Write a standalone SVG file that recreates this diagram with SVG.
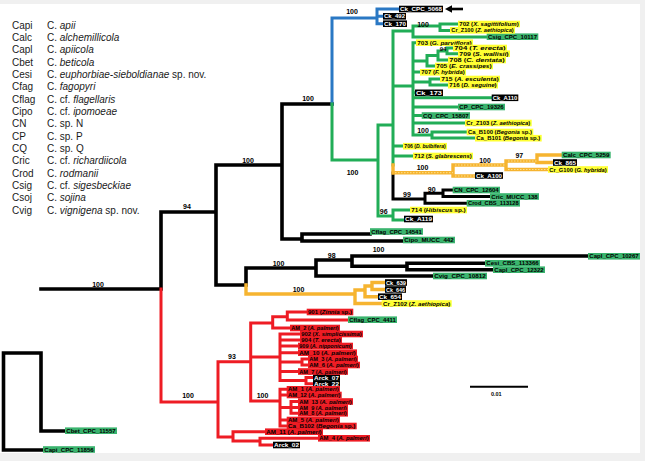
<svg xmlns="http://www.w3.org/2000/svg" width="645" height="461" viewBox="0 0 645 461">
<style>
.lg{font-family:"Liberation Sans",Arial,sans-serif;font-size:10px;fill:#1a1a1a}
.it{font-style:italic}
.sp{font-family:"Liberation Sans",Arial,sans-serif;font-size:7px;font-weight:bold;fill:#000;text-anchor:middle}
.lb{font-family:"Liberation Sans",Arial,sans-serif;font-size:5.5px;font-weight:bold}
.tw{fill:#fff}
.tk{fill:#000}
.bb{fill:#000}
.gb{fill:#3ab46e}
.yb{fill:#ffff33}
.rb{fill:#ee1c24}
.k{stroke:#000;stroke-width:3.6;fill:none;stroke-linecap:square}
.k2{stroke:#000;stroke-width:3;fill:none;stroke-linecap:square}
.g{stroke:#21ad57;stroke-width:3;fill:none;stroke-linecap:square}
.b{stroke:#2a78c4;stroke-width:3;fill:none;stroke-linecap:square}
.y{stroke:#f6b430;stroke-width:3.4;fill:none;stroke-linecap:square}
.yd{stroke:#fbe08e;stroke-width:1;fill:none;stroke-dasharray:1.5 1.5}
.r{stroke:#ee1c24;stroke-width:3;fill:none;stroke-linecap:square}
</style>
<rect x="0" y="0" width="645" height="461" fill="#f0f0f0"/>
<rect x="0" y="4" width="640" height="449" fill="#ffffff"/>

<g id="legend">
<text class="lg" x="12" y="28.5">Capi</text><text class="lg" x="47" y="28.5">C. <tspan class="it">apii</tspan></text>
<text class="lg" x="12" y="40.8">Calc</text><text class="lg" x="47" y="40.8">C. <tspan class="it">alchemillicola</tspan></text>
<text class="lg" x="12" y="53.2">Capl</text><text class="lg" x="47" y="53.2">C. <tspan class="it">apiicola</tspan></text>
<text class="lg" x="12" y="65.5">Cbet</text><text class="lg" x="47" y="65.5">C. <tspan class="it">beticola</tspan></text>
<text class="lg" x="12" y="77.8">Cesi</text><text class="lg" x="47" y="77.8">C. <tspan class="it">euphorbiae-sieboldianae</tspan> sp. nov.</text>
<text class="lg" x="12" y="90.2">Cfag</text><text class="lg" x="47" y="90.2">C. <tspan class="it">fagopyri</tspan></text>
<text class="lg" x="12" y="102.5">Cflag</text><text class="lg" x="47" y="102.5">C. cf. <tspan class="it">flagellaris</tspan></text>
<text class="lg" x="12" y="114.8">Cipo</text><text class="lg" x="47" y="114.8">C. cf. <tspan class="it">ipomoeae</tspan></text>
<text class="lg" x="12" y="127.2">CN</text><text class="lg" x="47" y="127.2">C. sp. N</text>
<text class="lg" x="12" y="139.5">CP</text><text class="lg" x="47" y="139.5">C. sp. P</text>
<text class="lg" x="12" y="151.8">CQ</text><text class="lg" x="47" y="151.8">C. sp. Q</text>
<text class="lg" x="12" y="164.2">Cric</text><text class="lg" x="47" y="164.2">C. cf. <tspan class="it">richardiicola</tspan></text>
<text class="lg" x="12" y="176.5">Crod</text><text class="lg" x="47" y="176.5">C. <tspan class="it">rodmanii</tspan></text>
<text class="lg" x="12" y="188.8">Csig</text><text class="lg" x="47" y="188.8">C. cf. <tspan class="it">sigesbeckiae</tspan></text>
<text class="lg" x="12" y="201.2">Csoj</text><text class="lg" x="47" y="201.2">C. <tspan class="it">sojina</tspan></text>
<text class="lg" x="12" y="213.5">Cvig</text><text class="lg" x="47" y="213.5">C. <tspan class="it">vignigena</tspan> sp. nov.</text>
</g>

<g id="connectors">
<path class="k" d="M3.5,353 V450 H43 M3.5,353 H41 V431 H65 M41,289 H161 V212 H216 V165 H282 M216,165 V285 H246 V268 H316 M282,104 V239 H302 M302,234 V241 M302,234 H370 M302,241 H403 M282,104 H332 M316,260 V276 H433 M316,260 H352 M352,256 V266.3 H407 M352,256 H588 M407,263.3 V269.7 M407,263.3 H485 M407,269.7 H493"/>
<path class="k2" d="M393,173 V199 H425 M425,193.3 V203.3 H466.7 M425,193.3 H443 M443,190 V196.5 M443,190 H452.7 M443,196.5 H490"/>
<path class="b" d="M332,104 V18 H377 M377,9 V23.7 M377,9 H399 M377,16.3 H383 M377,23.7 H383"/>
<path class="g" d="M332,104 V160 H378 M378,125 V216 H393 M393,210 V220 M393,210 H410 M393,220 H404 M378,125 H393 M393,31 V165 M393,31 H413 M413,26 V37 M413,26 H440 M440,24 V30.5 M440,24 H458 M440,30.5 H450 M413,37 H486.7 M393,86 H413 M413,42.7 V135 M413,42.7 H416 M447,48 V53.7 M447,48 H453 M447,53.7 H458 M438,51 V60 M438,51 H447 M438,60 H448 M427,55.5 V66 M427,55.5 H438 M427,66 H435 M413,61 H427 M413,72 H420 M430,79 V85 M430,79 H440 M430,85 H448 M413,82 H430 M413,92.8 H415 M413,97.8 H491.7 M413,107 H458 M413,115.5 H421.7 M413,123 H465 M413,135 H432 M432,132 V138 M432,132 H466.7 M432,138 H475 M393,146 H403 M393,156 H413"/>
<path class="y" d="M393,165 V173 M393,172.7 H453 M453,165 V176 M453,176 H475 M453,165 H506 M506,161 V169.5 M506,169.5 H548 M506,161 H537 M537,155 V162.5 M537,155 H561.7 M537,162.5 H553 M246,285 V294 H355 M355,290 V303.5 M355,303.5 H381.7 M355,290 H365 M365,286 V296.7 M365,296.7 H378 M365,286 H372 M372,282.5 V289.5 M372,282.5 H385 M372,289.5 H385"/>
<path class="yd" d="M395,172.7 H453 M455,176 H475 M455,165 H506 M508,169.5 H548 M508,161 H537"/>
<path class="r" d="M161,289 V402 H218 M218,361.7 V437 H233 M218,361.7 H250.7 M250.7,323 V401 M250.7,323 H272.7 M272.7,316.7 V328 H290 M272.7,316.7 H287.3 M287.3,312 V320 M287.3,312 H306.7 M287.3,320 H348 M250.7,357 H280 M280,334 V380.6 M280,334 H300 M280,340 H300 M280,346 H298 M280,352.7 H298 M280,362 H302 M302,359 V365 M302,359 H308 M302,365 H308 M280,371.5 H298 M280,380.6 H306 M306,377.5 V383.7 M306,377.5 H313 M306,383.7 H313 M250.7,401 H280 M280,389.3 V426 M280,389.3 H286.7 M280,395 H286.7 M280,407.5 H291 M291,401.5 V413.3 M291,401.5 H298 M291,407.5 H298 M291,413.3 H298 M280,420 H286.7 M280,426 H286.7 M233,431.7 V441 M233,431.7 H265 M233,441 H260 M260,438.3 V445 M260,438.3 H318 M260,445 H273"/>
</g>

<g id="support">
<text class="sp" x="98" y="287.3">100</text>
<text class="sp" x="187" y="209">94</text>
<text class="sp" x="248" y="163.3">100</text>
<text class="sp" x="308" y="101">100</text>
<text class="sp" x="352" y="14">100</text>
<text class="sp" x="423" y="26.5">100</text>
<text class="sp" x="443" y="50.5" style="font-size:6px">94</text>
<text class="sp" x="423" y="133">100</text>
<text class="sp" x="352.5" y="174.5">100</text>
<text class="sp" x="422.5" y="170">100</text>
<text class="sp" x="407" y="196.5">99</text>
<text class="sp" x="431.7" y="191.5">90</text>
<text class="sp" x="383.7" y="214">96</text>
<text class="sp" x="485" y="163.3">100</text>
<text class="sp" x="519.3" y="158.3">97</text>
<text class="sp" x="278.5" y="266.3">100</text>
<text class="sp" x="331.7" y="258">98</text>
<text class="sp" x="378.5" y="252.3">100</text>
<text class="sp" x="298.5" y="292.3">100</text>
<text class="sp" x="188" y="398">100</text>
<text class="sp" x="232" y="359">93</text>
<text class="sp" x="262.5" y="398.3">100</text>
</g>

<g id="arrow"><polygon points="445,9 452,5.2 452,12.8" fill="#000"/><rect x="451" y="7.7" width="12" height="2.6" fill="#000"/></g>

<g id="scale"><line x1="470" y1="386.7" x2="528" y2="386.7" stroke="#000" stroke-width="2"/><text class="sp" x="496.3" y="396" style="font-size:5.5px">0.01</text></g>

<g id="n-Ck_CPC_5068"><rect class="bb" x="399" y="5.7" width="44" height="6.6"/><text class="lb tw" x="400" y="11" textLength="42" lengthAdjust="spacingAndGlyphs">Ck_CPC_5068</text></g>
<g id="n-Ck_492"><rect class="bb" x="383" y="13" width="23" height="6.6"/><text class="lb tw" x="384" y="18.3" textLength="21" lengthAdjust="spacingAndGlyphs">Ck_492</text></g>
<g id="n-Ck_170"><rect class="bb" x="383" y="20.4" width="24" height="6.6"/><text class="lb tw" x="384" y="25.7" textLength="22" lengthAdjust="spacingAndGlyphs">Ck_170</text></g>
<g id="n-Ck_173"><rect class="bb" x="415" y="89.5" width="28" height="6.6"/><text class="lb tw" x="416" y="94.8" textLength="26" lengthAdjust="spacingAndGlyphs">Ck_173</text></g>
<g id="n-Ck_A110"><rect class="bb" x="491.7" y="94.5" width="26.6" height="6.6"/><text class="lb tw" x="492.7" y="99.8" textLength="24.6" lengthAdjust="spacingAndGlyphs">Ck_A110</text></g>
<g id="n-Ck_865"><rect class="bb" x="553" y="159.2" width="24" height="6.6"/><text class="lb tw" x="554" y="164.5" textLength="22" lengthAdjust="spacingAndGlyphs">Ck_865</text></g>
<g id="n-Ck_A100"><rect class="bb" x="475" y="172.2" width="28" height="6.6"/><text class="lb tw" x="476" y="177.5" textLength="26" lengthAdjust="spacingAndGlyphs">Ck_A100</text></g>
<g id="n-Ck_A119"><rect class="bb" x="404" y="215.7" width="29" height="6.6"/><text class="lb tw" x="405" y="221" textLength="27" lengthAdjust="spacingAndGlyphs">Ck_A119</text></g>
<g id="n-Ck_639"><rect class="bb" x="385" y="279.2" width="22" height="6.6"/><text class="lb tw" x="386" y="284.5" textLength="20" lengthAdjust="spacingAndGlyphs">Ck_639</text></g>
<g id="n-Ck_646"><rect class="bb" x="385" y="286.2" width="21" height="6.6"/><text class="lb tw" x="386" y="291.5" textLength="19" lengthAdjust="spacingAndGlyphs">Ck_646</text></g>
<g id="n-Ck_654"><rect class="bb" x="378" y="293.4" width="24" height="6.6"/><text class="lb tw" x="379" y="298.7" textLength="22" lengthAdjust="spacingAndGlyphs">Ck_654</text></g>
<g id="n-Arck_07"><rect class="bb" x="313" y="374.2" width="27" height="6.6"/><text class="lb tw" x="314" y="379.5" textLength="25" lengthAdjust="spacingAndGlyphs">Arck_07</text></g>
<g id="n-Arck_22"><rect class="bb" x="313" y="380.4" width="27" height="6.6"/><text class="lb tw" x="314" y="385.7" textLength="25" lengthAdjust="spacingAndGlyphs">Arck_22</text></g>
<g id="n-Arck_02"><rect class="bb" x="273" y="441.7" width="27" height="6.6"/><text class="lb tw" x="274" y="447" textLength="25" lengthAdjust="spacingAndGlyphs">Arck_02</text></g>

<g id="n-Csig_CPC_10117"><rect class="gb" x="486.7" y="33.4" width="51.6" height="6.6"/><text class="lb tk" x="488" y="38.7" textLength="49" lengthAdjust="spacingAndGlyphs">Csig_CPC_10117</text></g>
<g id="n-CP_CPC_19326"><rect class="gb" x="458" y="103.7" width="47" height="6.6"/><text class="lb tk" x="459.3" y="109" textLength="44.4" lengthAdjust="spacingAndGlyphs">CP_CPC_19326</text></g>
<g id="n-CQ_CPC_15807"><rect class="gb" x="421.7" y="112.2" width="48.3" height="6.6"/><text class="lb tk" x="423" y="117.5" textLength="45.7" lengthAdjust="spacingAndGlyphs">CQ_CPC_15807</text></g>
<g id="n-Calc_CPC_5259"><rect class="gb" x="561.7" y="151.7" width="49" height="6.6"/><text class="lb tk" x="563" y="157" textLength="46.4" lengthAdjust="spacingAndGlyphs">Calc_CPC_5259</text></g>
<g id="n-CN_CPC_12604"><rect class="gb" x="452.7" y="186.7" width="47.3" height="6.6"/><text class="lb tk" x="454" y="192" textLength="44.7" lengthAdjust="spacingAndGlyphs">CN_CPC_12604</text></g>
<g id="n-Cric_MUCC_138"><rect class="gb" x="490" y="193.2" width="49" height="6.6"/><text class="lb tk" x="491.3" y="198.5" textLength="46.4" lengthAdjust="spacingAndGlyphs">Cric_MUCC_138</text></g>
<g id="n-Crod_CBS_113128"><rect class="gb" x="466.7" y="200" width="53.3" height="6.6"/><text class="lb tk" x="468" y="205.3" textLength="50.7" lengthAdjust="spacingAndGlyphs">Crod_CBS_113128</text></g>
<g id="n-Cflag_CPC_14541"><rect class="gb" x="370" y="228.2" width="53" height="6.6"/><text class="lb tk" x="371.3" y="233.5" textLength="50.4" lengthAdjust="spacingAndGlyphs">Cflag_CPC_14541</text></g>
<g id="n-Cipo_MUCC_442"><rect class="gb" x="403" y="236.7" width="52" height="6.6"/><text class="lb tk" x="404.3" y="242" textLength="49.4" lengthAdjust="spacingAndGlyphs">Cipo_MUCC_442</text></g>
<g id="n-Capl_CPC_10267"><rect class="gb" x="588" y="253" width="52" height="6.6"/><text class="lb tk" x="589.3" y="258.3" textLength="49.4" lengthAdjust="spacingAndGlyphs">Capl_CPC_10267</text></g>
<g id="n-Cesi_CBS_113366"><rect class="gb" x="485" y="260" width="55" height="6.6"/><text class="lb tk" x="486.3" y="265.3" textLength="52.4" lengthAdjust="spacingAndGlyphs">Cesi_CBS_113366</text></g>
<g id="n-Capl_CPC_12322"><rect class="gb" x="493" y="266.4" width="52" height="6.6"/><text class="lb tk" x="494.3" y="271.7" textLength="49.4" lengthAdjust="spacingAndGlyphs">Capl_CPC_12322</text></g>
<g id="n-Cvig_CPC_10812"><rect class="gb" x="433" y="272.7" width="54" height="6.6"/><text class="lb tk" x="434.3" y="278" textLength="51.4" lengthAdjust="spacingAndGlyphs">Cvig_CPC_10812</text></g>
<g id="n-Cflag_CPC_4411"><rect class="gb" x="348" y="316.4" width="49" height="6.6"/><text class="lb tk" x="349.3" y="321.7" textLength="46.4" lengthAdjust="spacingAndGlyphs">Cflag_CPC_4411</text></g>
<g id="n-Cbet_CPC_11557"><rect class="gb" x="65" y="427.4" width="52" height="6.6"/><text class="lb tk" x="66.3" y="432.7" textLength="49.4" lengthAdjust="spacingAndGlyphs">Cbet_CPC_11557</text></g>
<g id="n-Capi_CPC_11856"><rect class="gb" x="43" y="446.2" width="52" height="6.6"/><text class="lb tk" x="44.3" y="451.5" textLength="49.4" lengthAdjust="spacingAndGlyphs">Capi_CPC_11856</text></g>

<g id="n-702"><rect class="yb" x="458" y="20.7" width="62" height="6.6"/><text class="lb tk" x="459.3" y="26" textLength="59.4" lengthAdjust="spacingAndGlyphs">702 (<tspan class="it">X. sagittifolium</tspan>)</text></g>
<g id="n-Cr_Z100"><rect class="yb" x="450" y="27" width="65" height="6.6"/><text class="lb tk" x="451.3" y="32.3" textLength="62.4" lengthAdjust="spacingAndGlyphs">Cr_Z100 (<tspan class="it">Z. aethiopica</tspan>)</text></g>
<g id="n-703"><rect class="yb" x="416" y="39.4" width="57" height="6.6"/><text class="lb tk" x="417.3" y="44.7" textLength="54.4" lengthAdjust="spacingAndGlyphs">703 (<tspan class="it">G. parviflora</tspan>)</text></g>
<g id="n-704"><rect class="yb" x="453" y="44.7" width="54" height="6.6"/><text class="lb tk" x="454.3" y="50" textLength="51.4" lengthAdjust="spacingAndGlyphs">704 (<tspan class="it">T. erecta</tspan>)</text></g>
<g id="n-709"><rect class="yb" x="458" y="50.4" width="52" height="6.6"/><text class="lb tk" x="459.3" y="55.7" textLength="49.4" lengthAdjust="spacingAndGlyphs">709 (<tspan class="it">S. wallisii</tspan>)</text></g>
<g id="n-708"><rect class="yb" x="448" y="56.7" width="58" height="6.6"/><text class="lb tk" x="449.3" y="62" textLength="55.4" lengthAdjust="spacingAndGlyphs">708 (<tspan class="it">C. dentata</tspan>)</text></g>
<g id="n-705"><rect class="yb" x="435" y="62.7" width="58" height="6.6"/><text class="lb tk" x="436.3" y="68" textLength="55.4" lengthAdjust="spacingAndGlyphs">705 (<tspan class="it">E. crassipes</tspan>)</text></g>
<g id="n-707"><rect class="yb" x="420" y="69" width="46" height="6.6"/><text class="lb tk" x="421.3" y="74.3" textLength="43.4" lengthAdjust="spacingAndGlyphs">707 (<tspan class="it">F. hybrida</tspan>)</text></g>
<g id="n-715"><rect class="yb" x="440" y="75.7" width="60" height="6.6"/><text class="lb tk" x="441.3" y="81" textLength="57.4" lengthAdjust="spacingAndGlyphs">715 (<tspan class="it">A. esculenta</tspan>)</text></g>
<g id="n-716"><rect class="yb" x="448" y="81.9" width="50" height="6.6"/><text class="lb tk" x="449.3" y="87.2" textLength="47.4" lengthAdjust="spacingAndGlyphs">716 (<tspan class="it">D. seguine</tspan>)</text></g>
<g id="n-Cr_Z103"><rect class="yb" x="465" y="119.7" width="66.7" height="6.6"/><text class="lb tk" x="466.3" y="125" textLength="64" lengthAdjust="spacingAndGlyphs">Cr_Z103 (<tspan class="it">Z. aethiopica</tspan>)</text></g>
<g id="n-Ca_B100"><rect class="yb" x="466.7" y="128.7" width="66.6" height="6.6"/><text class="lb tk" x="468" y="134" textLength="64" lengthAdjust="spacingAndGlyphs">Ca_B100 (<tspan class="it">Begonia</tspan> sp.)</text></g>
<g id="n-Ca_B101"><rect class="yb" x="475" y="134.9" width="66.7" height="6.6"/><text class="lb tk" x="476.3" y="140.2" textLength="64" lengthAdjust="spacingAndGlyphs">Ca_B101 (<tspan class="it">Begonia</tspan> sp.)</text></g>
<g id="n-706"><rect class="yb" x="403" y="142.9" width="44" height="6.6"/><text class="lb tk" x="404.3" y="148.2" textLength="41.4" lengthAdjust="spacingAndGlyphs">706 (<tspan class="it">D. bulbifera</tspan>)</text></g>
<g id="n-712"><rect class="yb" x="413" y="152.7" width="60" height="6.6"/><text class="lb tk" x="414.3" y="158" textLength="57.4" lengthAdjust="spacingAndGlyphs">712 (<tspan class="it">S. glabrescens</tspan>)</text></g>
<g id="n-Cr_G100"><rect class="yb" x="548" y="166.2" width="60" height="6.6"/><text class="lb tk" x="549.3" y="171.5" textLength="57.4" lengthAdjust="spacingAndGlyphs">Cr_G100 (<tspan class="it">G. hybrida</tspan>)</text></g>
<g id="n-714"><rect class="yb" x="410" y="206.7" width="57" height="6.6"/><text class="lb tk" x="411.3" y="212" textLength="54.4" lengthAdjust="spacingAndGlyphs">714 (<tspan class="it">Hibiscus</tspan> sp.)</text></g>
<g id="n-Cr_Z102"><rect class="yb" x="381.7" y="300.2" width="70" height="6.6"/><text class="lb tk" x="383" y="305.5" textLength="67.4" lengthAdjust="spacingAndGlyphs">Cr_Z102 (<tspan class="it">Z. aethiopica</tspan>)</text></g>

<g id="n-901"><rect class="rb" x="306.7" y="308.7" width="46.6" height="6.6"/><text class="lb tk" x="308" y="314" textLength="44" lengthAdjust="spacingAndGlyphs">901 (<tspan class="it">Zinnia</tspan> sp.)</text></g>
<g id="n-AM_2"><rect class="rb" x="290" y="324.7" width="50" height="6.6"/><text class="lb tk" x="291.3" y="330" textLength="47.4" lengthAdjust="spacingAndGlyphs">AM_2 (<tspan class="it">A. palmeri</tspan>)</text></g>
<g id="n-902"><rect class="rb" x="300" y="330.7" width="63" height="6.6"/><text class="lb tk" x="301.3" y="336" textLength="60.4" lengthAdjust="spacingAndGlyphs">902 (<tspan class="it">X. simplicissima</tspan>)</text></g>
<g id="n-904"><rect class="rb" x="300" y="336.7" width="42" height="6.6"/><text class="lb tk" x="301.3" y="342" textLength="39.4" lengthAdjust="spacingAndGlyphs">904 (<tspan class="it">T. erecta</tspan>)</text></g>
<g id="n-909"><rect class="rb" x="298" y="342.7" width="55" height="6.6"/><text class="lb tk" x="299.3" y="348" textLength="52.4" lengthAdjust="spacingAndGlyphs">909 (<tspan class="it">A. nipponicum</tspan>)</text></g>
<g id="n-AM_10"><rect class="rb" x="298" y="349.4" width="59" height="6.6"/><text class="lb tk" x="299.3" y="354.7" textLength="56.4" lengthAdjust="spacingAndGlyphs">AM_10 (<tspan class="it">A. palmeri</tspan>)</text></g>
<g id="n-AM_3"><rect class="rb" x="308" y="355.7" width="50" height="6.6"/><text class="lb tk" x="309.3" y="361" textLength="47.4" lengthAdjust="spacingAndGlyphs">AM_3 (<tspan class="it">A. palmeri</tspan>)</text></g>
<g id="n-AM_6"><rect class="rb" x="308" y="361.7" width="52" height="6.6"/><text class="lb tk" x="309.3" y="367" textLength="49.4" lengthAdjust="spacingAndGlyphs">AM_6 (<tspan class="it">A. palmeri</tspan>)</text></g>
<g id="n-AM_7"><rect class="rb" x="298" y="368.2" width="50" height="6.6"/><text class="lb tk" x="299.3" y="373.5" textLength="47.4" lengthAdjust="spacingAndGlyphs">AM_7 (<tspan class="it">A. palmeri</tspan>)</text></g>
<g id="n-AM_1"><rect class="rb" x="286.7" y="386" width="53.3" height="6.6"/><text class="lb tk" x="288" y="391.3" textLength="50.7" lengthAdjust="spacingAndGlyphs">AM_1 (<tspan class="it">A. palmeri</tspan>)</text></g>
<g id="n-AM_12"><rect class="rb" x="286.7" y="391.7" width="55" height="6.6"/><text class="lb tk" x="288" y="397" textLength="52.4" lengthAdjust="spacingAndGlyphs">AM_12 (<tspan class="it">A. palmeri</tspan>)</text></g>
<g id="n-AM_13"><rect class="rb" x="298" y="398.2" width="55" height="6.6"/><text class="lb tk" x="299.3" y="403.5" textLength="52.4" lengthAdjust="spacingAndGlyphs">AM_13 (<tspan class="it">A. palmeri</tspan>)</text></g>
<g id="n-AM_9"><rect class="rb" x="298" y="404.2" width="50" height="6.6"/><text class="lb tk" x="299.3" y="409.5" textLength="47.4" lengthAdjust="spacingAndGlyphs">AM_9 (<tspan class="it">A. palmeri</tspan>)</text></g>
<g id="n-AM_8"><rect class="rb" x="298" y="410" width="50" height="6.6"/><text class="lb tk" x="299.3" y="415.3" textLength="47.4" lengthAdjust="spacingAndGlyphs">AM_8 (<tspan class="it">A. palmeri</tspan>)</text></g>
<g id="n-AM_5"><rect class="rb" x="286.7" y="416.7" width="53.3" height="6.6"/><text class="lb tk" x="288" y="422" textLength="50.7" lengthAdjust="spacingAndGlyphs">AM_5 (<tspan class="it">A. palmeri</tspan>)</text></g>
<g id="n-Ca_B102"><rect class="rb" x="286.7" y="422.7" width="70" height="6.6"/><text class="lb tk" x="288" y="428" textLength="67.4" lengthAdjust="spacingAndGlyphs">Ca_B102 (<tspan class="it">Begonia</tspan> sp.)</text></g>
<g id="n-AM_11"><rect class="rb" x="265" y="428.4" width="58" height="6.6"/><text class="lb tk" x="266.3" y="433.7" textLength="55.4" lengthAdjust="spacingAndGlyphs">AM_11 (<tspan class="it">A. palmeri</tspan>)</text></g>
<g id="n-AM_4"><rect class="rb" x="318" y="435" width="52" height="6.6"/><text class="lb tk" x="319.3" y="440.3" textLength="49.4" lengthAdjust="spacingAndGlyphs">AM_4 (<tspan class="it">A. palmeri</tspan>)</text></g>
</svg>
